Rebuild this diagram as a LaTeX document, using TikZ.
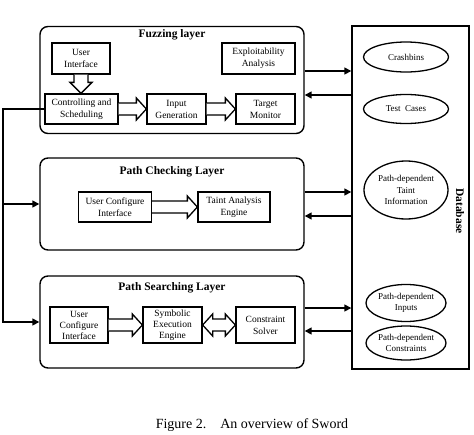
\documentclass[tikz,border=0pt]{standalone}
\usepackage{fontspec}
\setmainfont{Liberation Serif}
\usetikzlibrary{shapes.geometric,arrows.meta,calc}
\tikzset{
  layer/.style={draw, rounded corners=8pt, line width=1.4pt, inner sep=0pt},
  bx/.style={draw, line width=1.3pt, align=center, inner sep=0pt, font=\fontsize{9.5}{12}\selectfont},
  ell/.style={draw, ellipse, line width=1.3pt, align=center, inner sep=0pt, font=\fontsize{9}{11.5}\selectfont},
  ttl/.style={font=\bfseries\fontsize{11.5}{13}\selectfont, inner sep=0pt},
  conn/.style={line width=1.5pt, -{Triangle[length=7pt,width=7pt]}},
  plain/.style={line width=1.5pt},
  hollow/.style={draw, line width=1.3pt, fill=white, line join=miter}
}
\newcommand\hollowR[2]{%
  \draw[hollow] let \p1=(#1.east), \p2=(#2.west) in
    (\x1,\y1+6pt) -- (\x2-10pt,\y1+6pt) -- (\x2-10pt,\y1+11pt) -- (\x2,\y1)
    -- (\x2-10pt,\y1-11pt) -- (\x2-10pt,\y1-6pt) -- (\x1,\y1-6pt);}
\newcommand\hollowBoth[2]{%
  \draw[hollow] let \p1=(#1.east), \p2=(#2.west) in
    (\x1,\y1) -- (\x1+10pt,\y1+11pt) -- (\x1+10pt,\y1+6pt) -- (\x2-10pt,\y1+6pt) -- (\x2-10pt,\y1+11pt) -- (\x2,\y1)
    -- (\x2-10pt,\y1-11pt) -- (\x2-10pt,\y1-6pt) -- (\x1+10pt,\y1-6pt) -- (\x1+10pt,\y1-11pt) -- cycle;}
\newcommand\hollowDown[2]{%
  \draw[hollow] let \p1=(#1.south), \p2=(#2.north) in
    (\x1-7pt,\y1) -- (\x1-7pt,\y2+11pt) -- (\x1-11pt,\y2+11pt) -- (\x1,\y2)
    -- (\x1+11pt,\y2+11pt) -- (\x1+7pt,\y2+11pt) -- (\x1+7pt,\y1);}
\begin{document}
\begin{tikzpicture}[x=1pt,y=-1pt]
\useasboundingbox (0,0) rectangle (474,434);
% layers
\node[layer, minimum width=264pt, minimum height=107pt] (fuzz) at (172,80) {};
\node[ttl] (tf) at (172,35) {Fuzzing layer};
\node[layer, minimum width=264pt, minimum height=92pt] (pcl) at (172,204) {};
\node[ttl] (tpc) at (172,172) {Path Checking Layer};
\node[layer, minimum width=264pt, minimum height=92pt] (psl) at (172,322) {};
\node[ttl] (tps) at (172,288) {Path Searching Layer};
% fuzzing boxes
\node[bx, minimum width=58pt, minimum height=31pt] (ui) at (81,58.5) {User\\Interface};
\node[bx, minimum width=73pt, minimum height=31pt] (ea) at (258.5,58.5) {Exploitability\\Analysis};
\node[bx, minimum width=73pt, minimum height=30pt] (cs) at (81.5,109) {Controlling and\\Scheduling};
\node[bx, minimum width=59pt, minimum height=30pt] (ig) at (176.5,109) {Input\\Generation};
\node[bx, minimum width=59pt, minimum height=30pt] (tm) at (265.5,109) {Target\\Monitor};
% path checking boxes
\node[bx, minimum width=73pt, minimum height=30pt] (uci) at (115,207) {User Configure\\Interface};
\node[bx, minimum width=72pt, minimum height=30pt] (tae) at (234,207) {Taint Analysis\\Engine};
% path searching boxes
\node[bx, minimum width=58pt, minimum height=36pt, font=\fontsize{9.5}{11}\selectfont] (ucs) at (79,325) {User\\Configure\\Interface};
\node[bx, minimum width=59pt, minimum height=36pt, font=\fontsize{9.5}{11}\selectfont] (see) at (172.5,325) {Symbolic\\Execution\\Engine};
\node[bx, minimum width=59pt, minimum height=36pt] (cso) at (265.5,325) {Constraint\\Solver};
% database
\node[draw, line width=1.4pt, minimum width=117pt, minimum height=343pt, inner sep=0pt] (db) at (410.5,197.5) {};
\node[ttl, rotate=-90] (dbt) at (460,211) {Database};
\node[ell, minimum width=85pt, minimum height=30pt] (crash) at (406,57) {Crashbins};
\node[ell, minimum width=85pt, minimum height=29pt] (test) at (406,109) {Test\ \ Cases};
\node[ell, minimum width=84pt, minimum height=58pt] (taint) at (406,190) {Path-dependent\\Taint\\Information};
\node[ell, minimum width=80pt, minimum height=37pt] (inp) at (406,303) {Path-dependent\\Inputs};
\node[ell, minimum width=80pt, minimum height=34pt] (cons) at (406,343) {Path-dependent\\Constraints};
% hollow arrows
\hollowDown{ui}{cs}
\hollowR{cs}{ig}
\hollowR{ig}{tm}
\hollowR{uci}{tae}
\hollowR{ucs}{see}
\hollowBoth{see}{cso}
% connectors to database
\draw[conn] ([yshift=9pt]fuzz.east) -- ([yshift=9pt]fuzz.east -| db.west);
\draw[conn] ([yshift=-15pt]fuzz.east -| db.west) -- ([yshift=-15pt]fuzz.east);
\draw[conn] ([yshift=12pt]pcl.east) -- ([yshift=12pt]pcl.east -| db.west);
\draw[conn] ([yshift=-12pt]pcl.east -| db.west) -- ([yshift=-12pt]pcl.east);
\draw[conn] ([yshift=14pt]psl.east) -- ([yshift=14pt]psl.east -| db.west);
\draw[conn] ([yshift=-9pt]psl.east -| db.west) -- ([yshift=-9pt]psl.east);
% feedback line
\coordinate (lt) at (3,109);
\draw[conn] (cs.west) -| (lt |- psl.west) -- (psl.west);
\draw[conn] (lt |- pcl.west) -- (pcl.west);
% caption
\node[font=\fontsize{14}{16}\selectfont, inner sep=0pt] (cap) at (252,425) {Figure 2.\hspace{1em}An overview of Sword};
\end{tikzpicture}
\end{document}
